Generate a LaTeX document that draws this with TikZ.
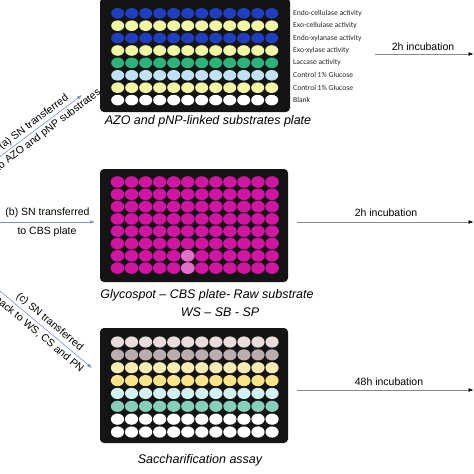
\documentclass[tikz,border=0pt]{standalone}
\usepackage{fontspec}
\setmainfont{Liberation Sans}
\newfontfamily\labfont{Carlito}
\usetikzlibrary{arrows.meta}
\definecolor{platebk}{HTML}{141414}
\definecolor{wblue}{HTML}{1F3FBF}
\definecolor{wyel}{HTML}{F3F6A2}
\definecolor{wgreen}{HTML}{2CB37A}
\definecolor{wlblue}{HTML}{BFE2F6}
\definecolor{wmag}{HTML}{D214A2}
\definecolor{wmagl}{HTML}{E070C8}
\definecolor{wpink}{HTML}{E9DCDC}
\definecolor{wtaupe}{HTML}{B9AEAB}
\definecolor{wcream}{HTML}{F8ECB4}
\definecolor{wgold}{HTML}{FAE487}
\definecolor{wcyan}{HTML}{D3F0F2}
\definecolor{wteal}{HTML}{86CFBB}
\definecolor{flowgrey}{HTML}{8A8A8A}
\definecolor{xferblue}{HTML}{8090C0}
\begin{document}
\begin{tikzpicture}[x=1pt,y=-1pt,
  plate/.style={fill=platebk, rounded corners=4pt, inner sep=0pt, draw=none},
  flow/.style={draw=flowgrey, line width=0.7pt, -{Latex[length=5pt,width=4pt,black]}},
  xfer/.style={draw=xferblue, line width=0.6pt, -{Latex[length=5pt,width=3.5pt,fill=xferblue!80!blue]}},
  lbl/.style={font=\fontsize{10.5}{12}\selectfont, inner sep=0pt},
  captext/.style={font=\fontsize{12.5}{14}\selectfont\itshape, inner sep=0pt},
  act/.style={font=\labfont\fontsize{7.6}{8}\selectfont, anchor=west, inner sep=0pt, text=black!85}]
\useasboundingbox (0,0) rectangle (474,474);
\fill[white] (0,0) rectangle (474,474);

% ---------- plate 1 ----------
\node[plate, minimum width=190pt, minimum height=114pt] (p1) at (195,55) {};
\foreach \r/\col in {0/wblue,1/wyel,2/wblue,3/wyel,4/wgreen,5/wlblue,6/wyel,7/white}{
  \foreach \c in {0,...,11}{
    \fill[\col] ({117.7+14*\c},{13.3+12.4*\r}) ellipse [x radius=6.5, y radius=5.3];
  }
}
\node[act] (l1) at (293,13.3) {Endo-cellulase activity};
\node[act] (l2) at (293,25.7) {Exo-cellulase activity};
\node[act] (l3) at (293,38.1) {Endo-xylanase activity};
\node[act] (l4) at (293,50.5) {Exo-xylase activity};
\node[act] (l5) at (293,62.9) {Laccase activity};
\node[act] (l6) at (293,75.3) {Control 1\% Glucose};
\node[act] (l7) at (293,87.7) {Control 1\% Glucose};
\node[act] (l8) at (293,100.1) {Blank};
\node[captext] (c1) at (208,121) {AZO and pNP-linked substrates plate};

% ---------- plate 2 ----------
\node[plate, minimum width=188pt, minimum height=113pt] (p2) at (194,225.5) {};
\foreach \r in {0,...,7}{
  \foreach \c in {0,...,11}{
    \fill[wmag] ({117.5+14.05*\c},{182+12.3*\r}) ellipse [x radius=6.8, y radius=5.8];
  }
}
\fill[wmagl] ({117.5+14.05*5},{182+12.3*6}) ellipse [x radius=6.8, y radius=5.8];
\fill[wmagl] ({117.5+14.05*5},{182+12.3*7}) ellipse [x radius=6.8, y radius=5.8];
\node[captext] (c2) at (207,295) {Glycospot -- CBS plate- Raw substrate};
\node[captext] (c2b) at (220,312) {WS -- SB - SP};

% ---------- plate 3 ----------
\node[plate, minimum width=188pt, minimum height=115pt] (p3) at (194,385.5) {};
\foreach \r/\col in {0/wpink,1/wtaupe,2/wcream,3/wgold,4/wcyan,5/wteal,6/white,7/white}{
  \foreach \c in {0,...,11}{
    \fill[\col] ({117.5+14.05*\c},{342+12.86*\r}) ellipse [x radius=6.6, y radius=5.6];
  }
}
\node[captext] (c3) at (200,460) {Saccharification assay};

% ---------- incubation arrows ----------
\coordinate (i1s) at (375,54);  \coordinate (i1e) at (473.5,54);
\coordinate (i2s) at (297,222); \coordinate (i2e) at (473.5,222);
\coordinate (i3s) at (297,390); \coordinate (i3e) at (473.5,390);
\draw[flow] (i1s) -- (i1e);
\draw[flow] (i2s) -- (i2e);
\draw[flow] (i3s) -- (i3e);
\node[lbl] (t1) at (423,47) {2h incubation};
\node[lbl] (t2) at (386,213) {2h incubation};
\node[lbl] (t3) at (389,382) {48h incubation};

% ---------- transfer arrows ----------
\coordinate (as) at (-38,185); \coordinate (ae) at (82,95);
\draw[xfer] (as) -- (ae);
\node[lbl, rotate=37] (ta1) at (33.8,122.4) {(a) SN transferred};
\node[lbl, rotate=37] (ta2) at (48.4,130.2) {to AZO and pNP substrates};

\coordinate (bs) at (0,222); \coordinate (be) at (95,222);
\draw[xfer] (bs) -- (be);
\node[lbl] (tb1) at (47.5,213) {(b) SN transferred};
\node[lbl] (tb2) at (47,232) {to CBS plate};

\coordinate (cs) at (-23,272); \coordinate (ce) at (92,368);
\draw[xfer] (cs) -- (ce);
\node[lbl, rotate=-40] (tc1) at (49.6,322) {(c) SN transferred};
\node[lbl, rotate=-40] (tc2) at (39.4,334.2) {back to WS, CS and PN};
\end{tikzpicture}
\end{document}
